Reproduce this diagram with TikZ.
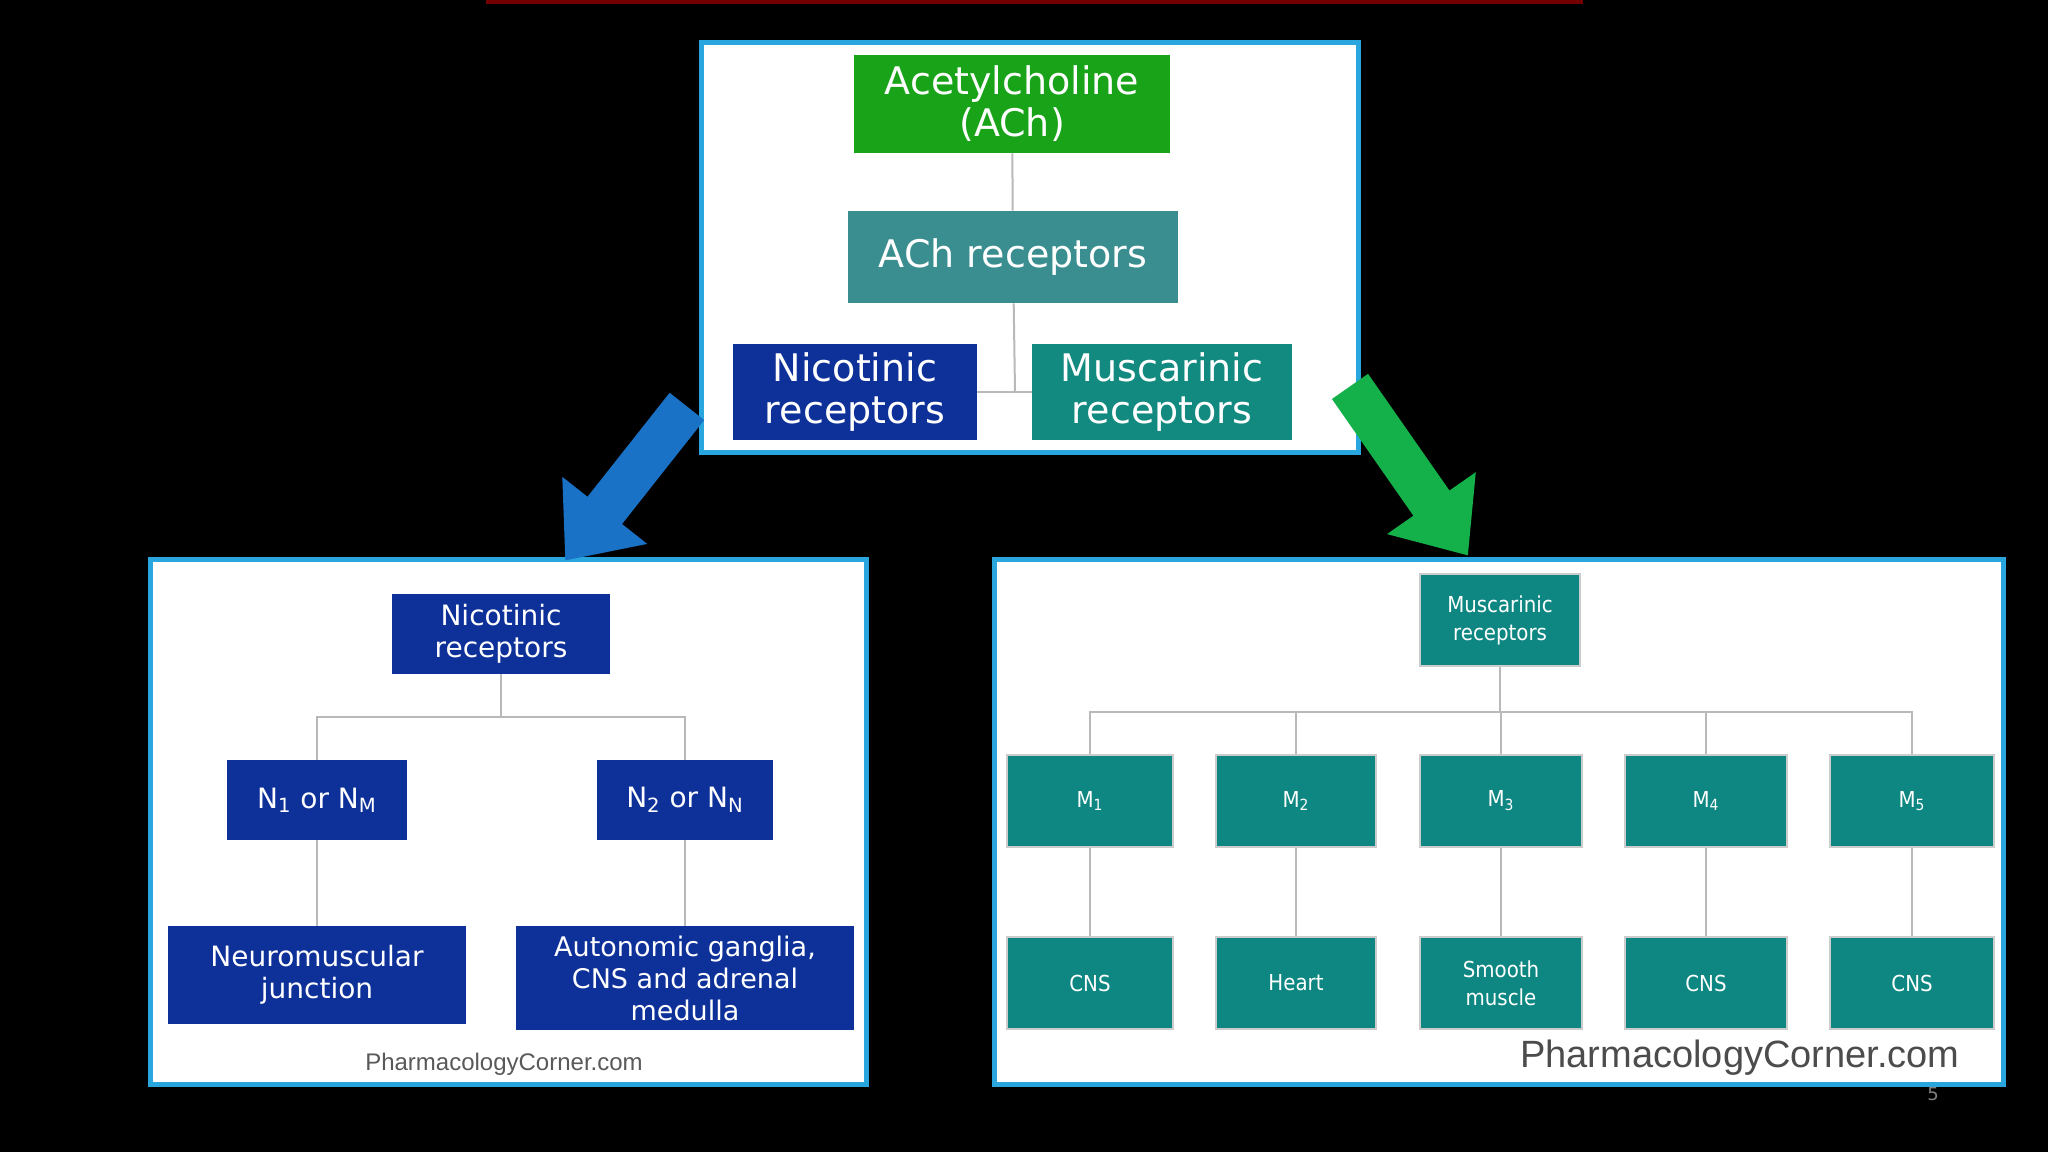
\documentclass[tikz,border=0pt]{standalone}
\usepackage{fontspec}
\setmainfont{DejaVu Sans}
\newfontfamily\cond{DejaVu Sans Condensed}
\newfontfamily\wm{Liberation Sans}
\usetikzlibrary{arrows.meta}
\definecolor{pblue}{HTML}{2AA6DF}
\definecolor{accg}{HTML}{19A319}
\definecolor{rect}{HTML}{3A8E90}
\definecolor{nblue}{HTML}{0E3199}
\definecolor{mteal}{HTML}{128A80}
\definecolor{tealb}{HTML}{0E8782}
\definecolor{arb}{HTML}{1A72C6}
\definecolor{arg}{HTML}{14B04A}
\begin{document}
\begin{tikzpicture}[x=0.5pt,y=-0.5pt,
 panel/.style={draw=pblue,line width=2.5pt,fill=white},
 bx/.style={inner sep=0pt,align=center,text=white},
 big/.style={bx,font=\fontsize{19}{21}\selectfont},
 mid/.style={bx,font=\fontsize{14}{16}\selectfont},
 sm/.style={bx,fill=tealb,draw=gray!40,line width=1pt,font=\cond\fontsize{11}{14}\selectfont},
 ln/.style={draw=gray!55,line width=1pt},
 fat/.style={line width=22pt,-{Triangle[length=32pt,width=52pt]}}]
\fill[black] (0,0) rectangle (2048,1152);
\useasboundingbox (0,0) rectangle (2048,1152);
\fill[red!45!black] (486,0) rectangle (1583,4);
% panels
\draw[panel] (701,42) rectangle (1358,452);
\draw[panel] (150,559) rectangle (866,1084);
\draw[panel] (994,559) rectangle (2003,1084);
% top
\node[big,fill=accg,minimum width=158pt,minimum height=49pt] (ach) at (1012,104) {Acetylcholine\\(ACh)};
\node[big,fill=rect,minimum width=165pt,minimum height=46pt] (achr) at (1013,257) {ACh receptors};
\node[big,fill=nblue,minimum width=122pt,minimum height=48pt] (nic) at (855,392) {Nicotinic\\receptors};
\node[big,fill=mteal,minimum width=130pt,minimum height=48pt] (mus) at (1162,392) {Muscarinic\\receptors};
\draw[ln] (ach) -- (achr);
\coordinate (j) at (1015,392);
\draw[ln] (achr) -- (j);
\draw[ln] (nic) -- (mus);
% arrows
\node[inner sep=0pt] (ta) at (688,405) {};
\node[inner sep=0pt] (ha) at (564,562) {};
\draw[fat,arb] (ta) -- (ha);
\node[inner sep=0pt] (tb) at (1349,385) {};
\node[inner sep=0pt] (hb) at (1469,557) {};
\draw[fat,arg] (tb) -- (hb);
% left panel
\node[mid,fill=nblue,minimum width=109pt,minimum height=40pt] (ln0) at (501,634) {Nicotinic\\receptors};
\node[mid,fill=nblue,minimum width=90pt,minimum height=40pt] (n1) at (317,800) {N\textsubscript{1} or N\textsubscript{M}};
\node[mid,fill=nblue,minimum width=88pt,minimum height=40pt] (n2) at (685,800) {N\textsubscript{2} or N\textsubscript{N}};
\node[mid,fill=nblue,minimum width=149pt,minimum height=49pt] (nmj) at (317,975) {Neuromuscular\\junction};
\node[mid,fill=nblue,minimum width=169pt,minimum height=52pt,font=\fontsize{13.5}{16}\selectfont] (aut) at (685,978) {Autonomic ganglia,\\CNS and adrenal\\medulla};
\coordinate (lb) at (501,717);
\draw[ln] (ln0) -- (lb);
\draw[ln] (n1.north) |- (lb) -| (n2.north);
\draw[ln] (n1) -- (nmj);
\draw[ln] (n2) -- (aut);
\node[text=gray!70!black,font=\wm\fontsize{12}{14}\selectfont] (w1) at (504,1064) {PharmacologyCorner.com};
% right panel
\node[sm,minimum width=80pt,minimum height=46pt] (m0) at (1500,620) {Muscarinic\\receptors};
\coordinate (rb) at (1500,712);
\draw[ln] (m0) -- (rb);
\foreach \n/\x/\w/\lab/\bot in {1/1090/83/M\textsubscript{1}/CNS,2/1296/80/M\textsubscript{2}/Heart,3/1501/81/M\textsubscript{3}/{Smooth\\muscle},4/1706/81/M\textsubscript{4}/CNS,5/1912/82/M\textsubscript{5}/CNS}{
 \node[sm,minimum width=\w pt,minimum height=46pt] (m\n) at (\x,801) {\lab};
 \node[sm,minimum width=\w pt,minimum height=46pt] (b\n) at (\x,983) {\bot};
 \draw[ln] (m\n) -- (b\n);
}
\draw[ln] (m1.north) |- (rb) -| (m5.north);
\draw[ln] (m2.north) -- (m2.north |- rb);
\draw[ln] (m3.north) -- (m3.north |- rb);
\draw[ln] (m4.north) -- (m4.north |- rb);
\node[text=gray!60!black,font=\wm\fontsize{19}{22}\selectfont] (w2) at (1740,1058) {PharmacologyCorner.com};
\node[text=gray,font=\fontsize{9}{10}\selectfont] (pg) at (1933,1094) {5};
\end{tikzpicture}
\end{document}
